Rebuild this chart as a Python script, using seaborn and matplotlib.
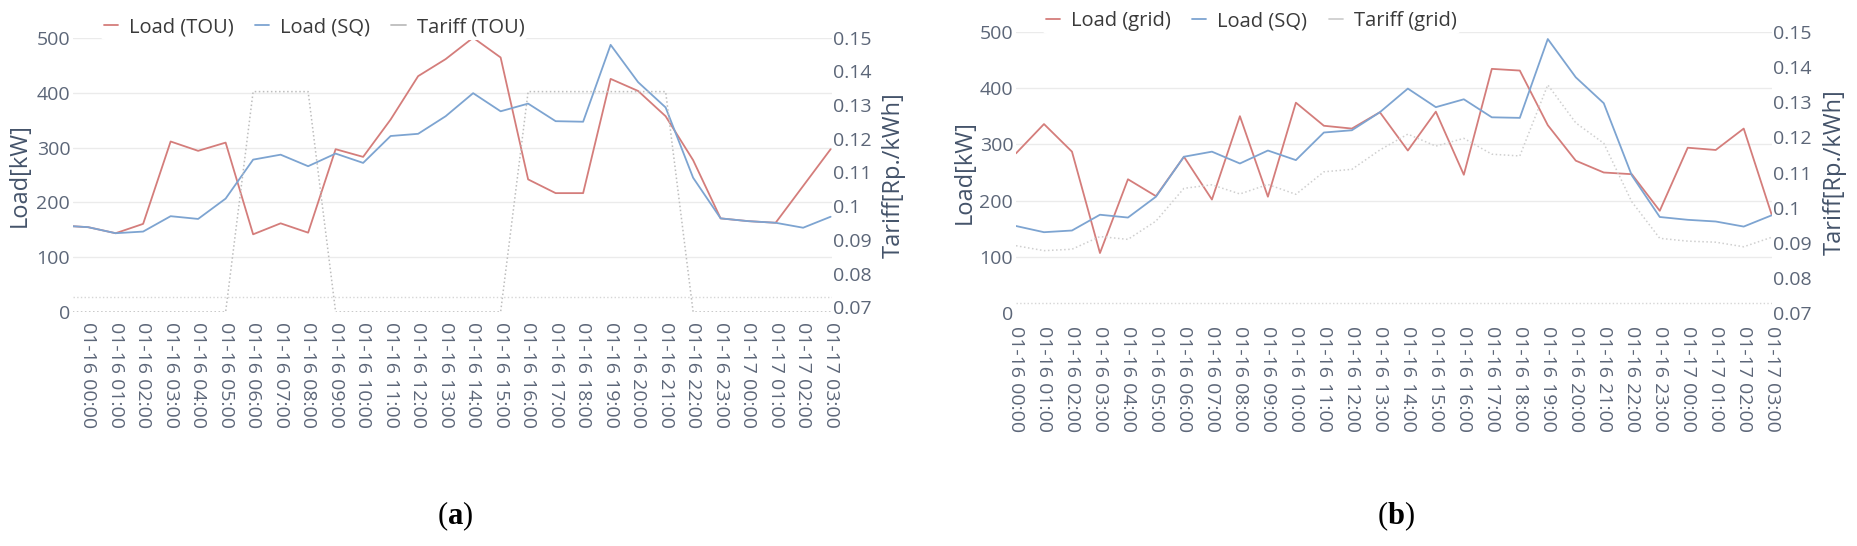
import matplotlib
matplotlib.use("Agg")
import numpy as np
import pandas as pd
import seaborn as sns
import matplotlib.pyplot as plt
from matplotlib.lines import Line2D

# ---------------- data ----------------
time_labels = ["01-16 00:00", "01-16 01:00", "01-16 02:00", "01-16 03:00", "01-16 04:00",
               "01-16 05:00", "01-16 06:00", "01-16 07:00", "01-16 08:00", "01-16 09:00",
               "01-16 10:00", "01-16 11:00", "01-16 12:00", "01-16 13:00", "01-16 14:00",
               "01-16 15:00", "01-16 16:00", "01-16 17:00", "01-16 18:00", "01-16 19:00",
               "01-16 20:00", "01-16 21:00", "01-16 22:00", "01-16 23:00", "01-17 00:00",
               "01-17 01:00", "01-17 02:00", "01-17 03:00"]

# value just before the first tick (partly visible at the left edge of panel a)
prev_label = "01-15 23:00"
prev_load_sq = 158
prev_load_tou = 158
prev_tariff_tou = 0.0686

load_sq = [155, 144, 147, 175, 170, 207, 278, 287, 266, 289, 272, 321, 325, 357,
           399, 366, 380, 348, 347, 487, 419, 373, 245, 171, 166, 163, 154, 174]
load_tou = [155, 144, 161, 311, 294, 309, 142, 162, 145, 297, 283, 351, 430, 461,
            500, 464, 242, 217, 217, 425, 403, 357, 277, 171, 166, 163, 230, 297]
tariff_tou = [0.0686, 0.0686, 0.0686, 0.0686, 0.0686, 0.0686, 0.134, 0.134, 0.134,
              0.0686, 0.0686, 0.0686, 0.0686, 0.0686, 0.0686, 0.0686, 0.134, 0.134,
              0.134, 0.134, 0.134, 0.134, 0.0686, 0.0686, 0.0686, 0.0686, 0.0686, 0.0686]

load_grid = [284, 336, 287, 107, 238, 208, 278, 202, 350, 207, 374, 333, 328, 357,
             289, 358, 246, 434, 431, 334, 271, 250, 247, 182, 294, 290, 328, 175]
tariff_grid = [0.0892, 0.0878, 0.0882, 0.0918, 0.0910, 0.0962, 0.1055, 0.1065, 0.1039,
               0.1066, 0.1038, 0.1102, 0.1109, 0.1164, 0.1209, 0.1175, 0.1197, 0.1152,
               0.1147, 0.1349, 0.1241, 0.1183, 0.1017, 0.0913, 0.0905, 0.0902, 0.0889, 0.0916]

ref_line_tariff = 0.073

load_ticks = [0, 100, 200, 300, 400, 500]
tariff_ticks = [0.07, 0.08, 0.09, 0.10, 0.11, 0.12, 0.13, 0.14, 0.15]

# ---------------- style ----------------
sns.set_theme(style="white")
plt.rcParams['font.family'] = ['Open Sans', 'DejaVu Sans']
plt.rcParams['mathtext.fontset'] = 'custom'
plt.rcParams['mathtext.rm'] = 'Liberation Serif'
plt.rcParams['mathtext.bf'] = 'Liberation Serif:bold'

RED = "#d47d7b"
BLUE = "#7da4d1"
GRAY = "#bdbdbd"
GRAY_B = "#cfcfcf"
TICK_C = "#5c6678"
TITLE_C = "#44536a"
LEG_C = "#3a3a3a"
GRID_C = "#ebebeb"

W, H = 1858, 546
fig = plt.figure(figsize=(W / 100, H / 100), dpi=100)
axA = fig.add_axes([73 / W, 1 - 312.3 / H, 759 / W, 274.6 / H])
axB = fig.add_axes([1016 / W, 1 - 313.3 / H, 755.7 / W, 281.6 / H])

dfA = pd.DataFrame({
    "pos": np.arange(-1, len(time_labels)),
    "label": [prev_label] + time_labels,
    "tou": [prev_load_tou] + load_tou,
    "sq": [prev_load_sq] + load_sq,
    "tariff": [prev_tariff_tou] + tariff_tou,
})
dfB = pd.DataFrame({
    "pos": np.arange(len(time_labels)),
    "label": time_labels,
    "grid": load_grid,
    "sq": load_sq,
    "tariff": tariff_grid,
})


def style_axes(ax, tw, xlim, tlim, title_x_left, title_x_right, xpad):
    ax.set_xlim(*xlim)
    ax.set_ylim(0, 500)
    tw.set_ylim(*tlim)
    ax.set_xticks(np.arange(len(time_labels)))
    ax.set_xticklabels(time_labels, rotation=-90, fontsize=14, color=TICK_C)
    ax.set_yticks(load_ticks)
    ax.set_yticklabels([str(v) for v in load_ticks], fontsize=14, color=TICK_C)
    tw.set_yticks(tariff_ticks)
    tw.set_yticklabels([f"{round(v, 2):g}" for v in tariff_ticks], fontsize=14, color=TICK_C)
    ax.tick_params(axis='x', length=0, pad=xpad)
    ax.tick_params(axis='y', length=0, pad=2)
    tw.tick_params(axis='y', length=0, pad=1)
    ax.yaxis.grid(True, color=GRID_C, lw=1.0)
    ax.xaxis.grid(False)
    tw.grid(False)
    ax.set_axisbelow(True)
    ax.get_ygridlines()[0].set_visible(False)
    for a in (ax, tw):
        for s in a.spines.values():
            s.set_visible(False)
    ax.set_xlabel("")
    ax.set_ylabel("Load[kW]", fontsize=17, color=TITLE_C)
    ax.yaxis.set_label_coords(title_x_left, 0.5)
    tw.set_ylabel("Tariff[Rp./kWh]", fontsize=17, color=TITLE_C)
    tw.yaxis.set_label_coords(title_x_right, 0.5)


# ---------------- panel (a) ----------------
twA = axA.twinx()
sns.lineplot(data=dfA, x="pos", y="tou", ax=axA, color=RED, lw=1.3, legend=False)
sns.lineplot(data=dfA, x="pos", y="sq", ax=axA, color=BLUE, lw=1.3, legend=False)
twA.axhline(ref_line_tariff, color="#d6d6d6", ls=":", lw=1.0)
sns.lineplot(data=dfA, x="pos", y="tariff", ax=twA, color=GRAY, lw=1.1, linestyle=":",
             legend=False)
style_axes(axA, twA, (-0.55, 27.05), (0.0685, 0.15), -0.054, 1.066, 7)

# ---------------- panel (b) ----------------
twB = axB.twinx()
sns.lineplot(data=dfB, x="pos", y="grid", ax=axB, color=RED, lw=1.3, legend=False)
sns.lineplot(data=dfB, x="pos", y="sq", ax=axB, color=BLUE, lw=1.3, legend=False)
twB.axhline(ref_line_tariff, color="#d6d6d6", ls=":", lw=1.0)
sns.lineplot(data=dfB, x="pos", y="tariff", ax=twB, color=GRAY_B, lw=1.1, linestyle=":",
             legend=False)
style_axes(axB, twB, (0, 27), (0.07, 0.15), -0.052, 1.067, 9)

# ---------------- legends ----------------
def add_legend(names, x0, yc, tariff_color):
    handles = [Line2D([], [], color=RED, lw=1.3),
               Line2D([], [], color=BLUE, lw=1.3),
               Line2D([], [], color=tariff_color, lw=1.3)]
    leg = fig.legend(handles, names, loc="center left",
                     bbox_to_anchor=(x0 / W, 1 - yc / H), ncol=3, frameon=True,
                     facecolor="white", edgecolor="none", framealpha=1.0,
                     borderpad=0.15, borderaxespad=0, handlelength=0.7,
                     handletextpad=0.55, columnspacing=1.05, fontsize=14.5)
    for t in leg.get_texts():
        t.set_color(LEG_C)
    return leg


add_legend(["Load (TOU)", "Load (SQ)", "Tariff (TOU)"], 101, 27, GRAY)
add_legend(["Load (grid)", "Load (SQ)", "Tariff (grid)"], 1043, 21, GRAY_B)

# ---------------- captions ----------------
fig.text(455 / W, 1 - 516 / H, r"($\mathbf{a}$)", fontsize=22, family="Liberation Serif",
         ha="center", va="center", color="black")
fig.text(1396 / W, 1 - 516 / H, r"($\mathbf{b}$)", fontsize=22, family="Liberation Serif",
         ha="center", va="center", color="black")

fig.savefig("out.png", dpi=100, facecolor="white")
